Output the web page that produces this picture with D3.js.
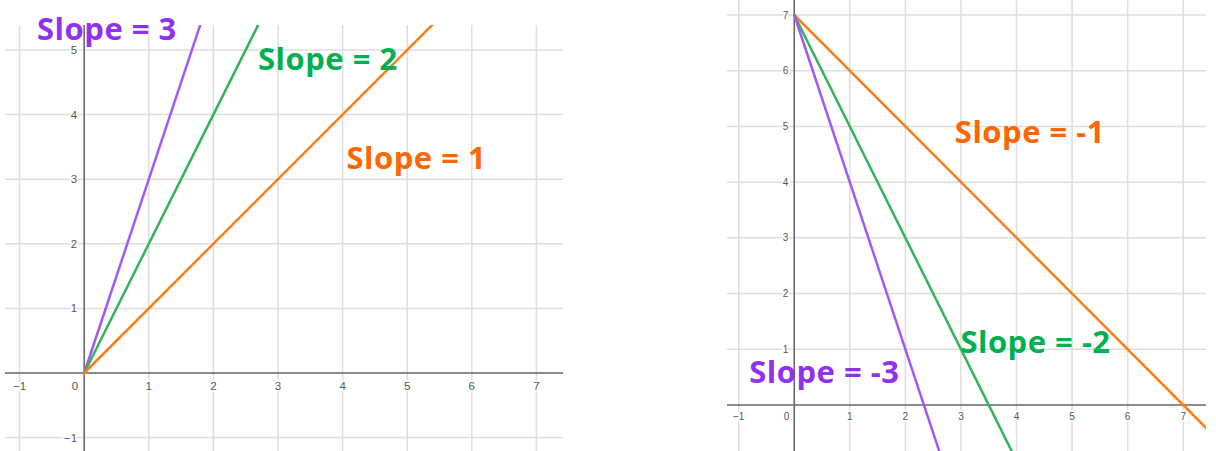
<!DOCTYPE html>
<html>
<head>
<meta charset="utf-8">
<script src="https://cdn.jsdelivr.net/npm/d3@7"></script>
<style>
  body { margin: 0; background: #fff; }
  svg { display: block; }
</style>
</head>
<body>
<svg id="chart" width="1216" height="451"></svg>
<script>
// Tick values
const xTicks = [-1, 0, 1, 2, 3, 4, 5, 6, 7];
const yTicksLeft = [-1, 1, 2, 3, 4, 5];
const yTicksRight = [1, 2, 3, 4, 5, 6, 7];

// Lines: two points on each line (x, y), clipped to the panel
const leftSlopes = [3, 2, 1];
const leftFrom = [[0, 0], [0, 0], [0, 0]];
const leftTo = [[2, 6], [3, 6], [6, 6]];

const rightSlopes = [-1, -2, -3];
const rightFrom = [[0, 7], [0, 7], [0, 7]];
const rightTo = [[8, -1], [4, -1], [3, -2]];

// Labels, anchored at their left baseline in chart units
const leftLabels = ["Slope = 3", "Slope = 2", "Slope = 1"];
const leftLabelX = [-0.73, 2.69, 4.06];
const leftLabelY = [5.155, 4.69, 3.16];

const rightLabels = ["Slope = -1", "Slope = -2", "Slope = -3"];
const rightLabelX = [2.89, 2.99, -0.81];
const rightLabelY = [4.70, 0.94, 0.40];

const lineColor = { 1: "#fa7e19", 2: "#34b35a", 3: "#a259f5" };
const textColor = { 1: "#ff6600", 2: "#00b050", 3: "#9031f0" };

const svg = d3.select("#chart");

const panels = [
  {
    id: "left",
    x: d3.scaleLinear().domain([-1, 7]).range([19.6, 536.4]),
    y: d3.scaleLinear().domain([-1, 5]).range([437.6, 50]),
    box: [5, 25, 563, 451],
    yTicks: yTicksLeft,
    font: 11.5, xLabelDy: 13, yLabelGap: 7,
    slopes: leftSlopes, from: leftFrom, to: leftTo,
    labels: leftLabels, lx: leftLabelX, ly: leftLabelY, labelSize: 31,
  },
  {
    id: "right",
    x: d3.scaleLinear().domain([-1, 7]).range([738.7, 1183.2]),
    y: d3.scaleLinear().domain([0, 7]).range([405, 15]),
    box: [727, 0, 1206, 451],
    yTicks: yTicksRight,
    font: 10, xLabelDy: 11, yLabelGap: 6,
    slopes: rightSlopes, from: rightFrom, to: rightTo,
    labels: rightLabels, lx: rightLabelX, ly: rightLabelY, labelSize: 31,
  },
];

const defs = svg.append("defs");

panels.forEach((p) => {
  const [x0, y0, x1, y1] = p.box;
  const g = svg.append("g").attr("class", p.id);

  defs.append("clipPath").attr("id", `clip-${p.id}`)
    .append("rect").attr("x", x0).attr("y", y0).attr("width", x1 - x0).attr("height", y1 - y0);

  // grid
  g.selectAll(".vgrid")
    .data(xTicks)
    .join("line")
    .attr("x1", (d) => p.x(d)).attr("x2", (d) => p.x(d))
    .attr("y1", y0).attr("y2", y1)
    .attr("stroke", "#dedede").attr("stroke-width", 1.5);

  g.selectAll(".hgrid")
    .data(p.yTicks)
    .join("line")
    .attr("x1", x0).attr("x2", x1)
    .attr("y1", (d) => p.y(d)).attr("y2", (d) => p.y(d))
    .attr("stroke", "#dedede").attr("stroke-width", 1.5);

  // axes
  g.append("line")
    .attr("x1", x0).attr("x2", x1).attr("y1", p.y(0)).attr("y2", p.y(0))
    .attr("stroke", "#666").attr("stroke-width", 1.5);
  g.append("line")
    .attr("x1", p.x(0)).attr("x2", p.x(0)).attr("y1", y0).attr("y2", y1)
    .attr("stroke", "#666").attr("stroke-width", 1.5);

  // tick labels
  const tickStyle = (sel) => sel
    .attr("font-family", "'Liberation Sans', Arial, sans-serif")
    .attr("font-size", p.font)
    .attr("fill", "#555")
    .attr("stroke", "#fff").attr("stroke-width", 3).attr("paint-order", "stroke");

  g.selectAll(".xlab")
    .data(xTicks)
    .join("text")
    .call(tickStyle)
    .attr("x", (d) => (d === 0 ? p.x(0) - p.yLabelGap + 1 : p.x(d)))
    .attr("y", p.y(0) + p.xLabelDy)
    .attr("dy", "0.35em")
    .attr("text-anchor", (d) => (d === 0 ? "end" : "middle"))
    .text((d) => (d < 0 ? "\u2212" + Math.abs(d) : d));

  g.selectAll(".ylab")
    .data(p.yTicks)
    .join("text")
    .call(tickStyle)
    .attr("x", p.x(0) - p.yLabelGap)
    .attr("y", (d) => p.y(d))
    .attr("dy", "0.35em")
    .attr("text-anchor", "end")
    .text((d) => (d < 0 ? "\u2212" + Math.abs(d) : d));

  // slope lines
  g.append("g").attr("clip-path", `url(#clip-${p.id})`)
    .selectAll("line")
    .data(p.slopes)
    .join("line")
    .attr("x1", (d, i) => p.x(p.from[i][0])).attr("y1", (d, i) => p.y(p.from[i][1]))
    .attr("x2", (d, i) => p.x(p.to[i][0])).attr("y2", (d, i) => p.y(p.to[i][1]))
    .attr("stroke", (d) => lineColor[Math.abs(d)])
    .attr("stroke-width", 2.5)
    .attr("stroke-linecap", "round");

  // labels
  g.selectAll(".slope-label")
    .data(p.labels)
    .join("text")
    .attr("x", (d, i) => p.x(p.lx[i]))
    .attr("y", (d, i) => p.y(p.ly[i]))
    .attr("font-family", "'Open Sans', sans-serif")
    .attr("font-weight", 700)
    .attr("font-size", p.labelSize)
    .attr("letter-spacing", 0.5)
    .attr("fill", (d, i) => textColor[Math.abs(p.slopes[i])])
    .text((d) => d);
});
</script>
</body>
</html>
